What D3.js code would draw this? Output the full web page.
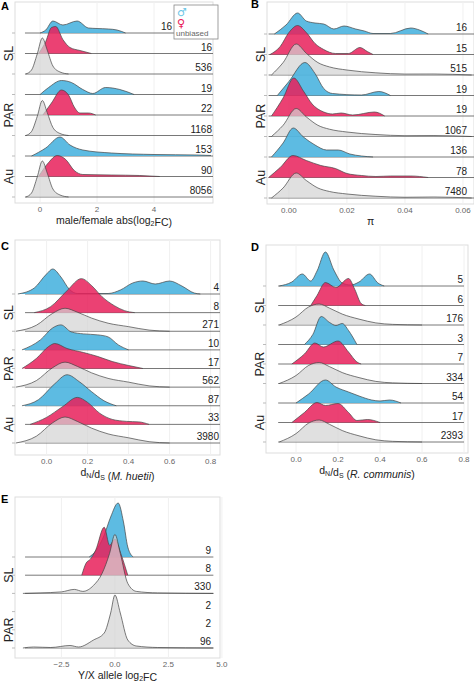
<!DOCTYPE html>
<html><head><meta charset="utf-8">
<script src="https://cdn.jsdelivr.net/npm/d3@7"></script>
<style>body{margin:0;background:#fff}svg{font-family:"Liberation Sans",Arial,sans-serif}</style>
</head><body><svg id="c" width="474" height="684"></svg>
<script>
// ---- data ----
const seriesTypes = ["male","female","unbiased","male","female","unbiased","male","female","unbiased"];
const groups = ["SL","PAR","Au"];
const grayA = [[-0.5,0],[-0.3,4],[-0.1,20],[0.08,36],[0.25,24],[0.45,8],[0.7,2],[1.0,0]];
const aCounts = [16,16,536,19,22,1168,153,90,8056];
const aCurves = [
 [[0.0,0],[0.2,3],[0.45,12],[0.8,8],[1.3,12],[1.7,5],[2.0,4.5],[2.4,4],[2.7,3],[3.0,0]],
 [[-0.05,0],[0.2,12],[0.4,26],[0.55,27],[0.8,14],[1.05,6],[1.4,3],[1.8,0]],
 grayA,
 [[0,0],[0.3,7],[0.75,14],[1.1,12],[1.5,5],[1.85,1],[2.3,7],[2.8,5],[3.3,0]],
 [[0.1,0],[0.4,12],[0.75,25],[1.0,20],[1.2,8],[1.4,2],[1.7,2],[1.95,0]],
 [[-0.5,0],[-0.3,4],[-0.1,19],[0.08,35],[0.25,23],[0.45,8],[0.7,2],[1.0,0]],
 [[-0.3,0],[0.2,8],[0.7,19],[1.05,11],[1.5,6],[2.5,3],[4,1.5],[5.5,1],[6.0,0.5]],
 [[-0.05,0],[0.3,14],[0.6,21],[0.9,17],[1.2,6],[1.5,2],[2.5,1.5],[3.5,1],[4.2,0]],
 grayA
];
const aTicks = [0,2,4];
const grayB = (p)=>[[-0.006,0],[-0.002,p*0.4],[0.0025,p],[0.006,p*0.7],[0.01,p*0.4],[0.014,p*0.26],[0.02,p*0.16],[0.03,p*0.07],[0.04,p*0.03],[0.05,1],[0.063,0]];
const bCounts = [16,15,515,19,19,1067,136,78,7480];
const bCurves = [
 [[-0.005,0],[-0.001,9],[0.003,21],[0.006,13],[0.009,11],[0.012,10],[0.0155,5],[0.019,8],[0.023,5],[0.026,3],[0.029,0.5],[0.035,0.5],[0.042,6],[0.045,4],[0.048,0]],
 [[-0.0065,0],[-0.003,8],[0.0,22],[0.003,29],[0.006,22],[0.009,11],[0.012,5],[0.016,1],[0.0205,1],[0.0245,7],[0.027,3],[0.029,0]],
 grayB(31),
 [[-0.004,0],[0.0,14],[0.0055,33],[0.009,22],[0.012,7],[0.015,2],[0.025,0.5],[0.031,4],[0.035,0]],
 [[-0.006,0],[-0.002,18],[0.0017,38],[0.005,25],[0.008,12],[0.012,4],[0.015,2],[0.018,3],[0.022,1],[0.0295,4],[0.033,0]],
 grayB(28),
 [[-0.006,0],[-0.002,14],[0.0015,29],[0.005,20],[0.009,12],[0.013,7],[0.017,7],[0.021,3],[0.025,1],[0.029,0]],
 [[-0.007,0],[-0.003,10],[0.0014,22],[0.006,17],[0.011,12],[0.016,9],[0.02,4],[0.025,2],[0.03,1],[0.035,1.5],[0.042,1.5],[0.048,0]],
 grayB(25)
];
const bTicks = [0,0.02,0.04,0.06];
const grayC = (p)=>[[-0.15,0],[-0.05,p*0.26],[0.03,p*0.78],[0.09,p],[0.15,p*0.83],[0.22,p*0.57],[0.3,p*0.35],[0.4,p*0.2],[0.5,p*0.05],[0.6,0]];
const cCounts = [4,8,271,10,17,562,87,33,3980];
const cCurves = [
 [[-0.14,0],[-0.06,6],[0.0,20],[0.03,25],[0.07,17],[0.11,5],[0.15,0.5],[0.3,0.5],[0.36,4],[0.42,11],[0.47,13],[0.53,10],[0.6,13],[0.66,8],[0.72,1],[0.75,0]],
 [[-0.06,0],[0.02,6],[0.1,22],[0.17,34],[0.22,27],[0.27,16],[0.33,7],[0.38,2],[0.43,0]],
 grayC(23),
 [[-0.12,0],[-0.03,10],[0.03,22],[0.07,25],[0.12,18],[0.18,16],[0.25,15],[0.3,13],[0.35,5],[0.4,0]],
 [[-0.12,0],[-0.05,10],[0.01,22],[0.04,25],[0.1,20],[0.18,16],[0.25,12],[0.32,7],[0.4,3],[0.47,0]],
 grayC(25),
 [[-0.12,0],[-0.04,6],[0.04,22],[0.1,31],[0.16,24],[0.22,14],[0.28,5],[0.34,0]],
 [[-0.08,0],[0.0,7],[0.08,18],[0.15,27],[0.2,22],[0.26,11],[0.32,5],[0.39,3],[0.45,2.5],[0.5,0]],
 grayC(26)
];
const cTicks = [0,0.2,0.4,0.6,0.8];
const grayD = (p)=>[[-0.08,0],[0.0,p*0.38],[0.06,p*0.86],[0.11,p],[0.16,p*0.8],[0.22,p*0.52],[0.3,p*0.28],[0.38,p*0.1],[0.46,p*0.03],[0.6,0]];
const dCounts = [5,6,176,3,7,334,54,17,2393];
const dCurves = [
 [[-0.08,0],[-0.02,4],[0.03,12],[0.07,5],[0.1,15],[0.14,34],[0.18,16],[0.22,3],[0.26,1],[0.3,4],[0.35,12],[0.39,3],[0.42,0]],
 [[0.07,0],[0.1,10],[0.14,23],[0.19,18],[0.25,27],[0.28,16],[0.31,2],[0.33,0]],
 grayD(21),
 [[0.04,0],[0.08,10],[0.12,28],[0.16,22],[0.19,19],[0.22,21],[0.25,14],[0.29,0]],
 [[-0.02,0],[0.04,10],[0.09,21],[0.13,17],[0.2,23],[0.25,12],[0.29,2],[0.31,0]],
 grayD(21),
 [[0.0,0],[0.06,9],[0.14,23],[0.19,16],[0.25,11],[0.3,7],[0.36,3],[0.4,2],[0.445,3],[0.5,0]],
 [[-0.02,0],[0.04,10],[0.1,20],[0.14,17],[0.2,19],[0.25,10],[0.29,2],[0.34,3],[0.4,0]],
 grayD(22)
];
const dTicks = [0,0.2,0.4,0.6,0.8];
const eSeries = ["male","female","unbiased","male","female","unbiased"];
const eCounts = [9,8,330,2,2,96];
const eCurves = [
 [[-1.2,0],[-0.9,6],[-0.5,22],[-0.2,40],[0.15,54],[0.4,35],[0.6,10],[0.85,0]],
 [[-1.55,0],[-1.35,12],[-1.15,16],[-0.9,25],[-0.5,48],[-0.25,30],[0.0,36],[0.3,20],[0.6,0]],
 [[-4.3,0],[-3.5,0.5],[-2.5,1.5],[-1.9,4],[-1.5,2],[-1.0,8],[-0.6,20],[-0.25,40],[0.0,59],[0.25,40],[0.6,10],[1.0,2],[2.0,0.5],[4.6,0]],
 null, null,
 [[-4.3,0],[-3.8,1],[-3.0,0.5],[-2.1,2.5],[-1.7,1],[-1.0,8],[-0.5,15],[-0.2,35],[0.0,53],[0.25,35],[0.6,8],[1.0,2],[2.0,0.5],[4.6,0]]
];
const eTicks = [-2.5,0,2.5,5];

// ---- drawing ----
const svg = d3.select("#c");
const fills = {male:"#4fb5e0",female:"#e8205a",unbiased:"#d3d3d3"};
const alph = {male:0.92,female:0.85,unbiased:0.7};

function panel(o){
  const g = svg.append("g");
  const x = d3.scaleLinear().domain(o.xd).range([o.L,o.R]);
  const yb = d3.scaleLinear().domain([0,o.counts.length-1]).range([o.b0,o.b1]);
  const h = d3.scaleLinear().domain([0,1]).range([0,1]);
  g.append("rect").attr("x",o.L).attr("y",o.T).attr("width",o.R-o.L).attr("height",o.B-o.T)
    .attr("fill","#fff").attr("stroke","#ddd");
  o.ticks.forEach(t=>g.append("line").attr("x1",x(t)).attr("x2",x(t)).attr("y1",o.T).attr("y2",o.B).attr("stroke","#f0f0f0"));
  o.counts.forEach((c,i)=>g.append("line").attr("x1",o.L-3).attr("x2",o.L).attr("y1",yb(i)).attr("y2",yb(i)).attr("stroke","#bbb"));
  o.curves.forEach((cv,i)=>{
    if(!cv) return;
    const base = yb(i), s = o.series[i];
    g.append("line").attr("x1",x(o.ls)).attr("x2",x(o.le)).attr("y1",base).attr("y2",base).attr("stroke","#555").attr("stroke-width",0.8);
    const area = d3.area().x(d=>x(d[0])).y0(base).y1(d=>base-h(d[1])).curve(d3.curveMonotoneX);
    const line = d3.line().x(d=>x(d[0])).y(d=>base-h(d[1])).curve(d3.curveMonotoneX);
    g.append("path").attr("d",area(cv)).attr("fill",fills[s]).attr("fill-opacity",alph[s]);
    g.append("path").attr("d",line(cv)).attr("fill","none").attr("stroke","#444").attr("stroke-width",0.7);
  });
  o.counts.forEach((c,i)=>g.append("text").attr("x",(i===0&&o.cx0)?o.cx0:o.cr).attr("y",yb(i)-3)
    .attr("text-anchor","end").attr("font-size",10).attr("fill","#222").text(c));
  o.ticks.forEach(t=>g.append("text").attr("x",x(t)).attr("y",o.B+9).attr("text-anchor","middle")
    .attr("font-size",8).attr("fill","#666").text(d3.format(o.fmt)(t).replace("-","−")));
  groups.forEach((gr,k)=>{
    if(k>=o.counts.length/3) return;
    const yc = yb(k*3+1);
    g.append("text").attr("transform",`translate(${o.L-2},${yc}) rotate(-90)`).attr("text-anchor","middle")
      .attr("font-size",12.5).attr("fill","#222").text(gr);
  });
  g.append("text").attr("x",o.lx).attr("y",o.ly).attr("font-weight","bold").attr("font-size",11).text(o.letter);
  const tt = g.append("text").attr("x",(o.L+o.R)/2).attr("y",o.B+21).attr("text-anchor","middle").attr("font-size",10.5).attr("fill","#222");
  o.title(tt);
  return g;
}
function sub(t,s){t.append("tspan").attr("font-size",7).attr("dy",2).text(s);t.append("tspan").attr("dy",-2).text("");}

panel({letter:"A",lx:1,ly:10,L:15,R:213,T:2,B:203,xd:[-0.88,6.07],ls:-0.53,le:6.07,b0:33,b1:197,
  counts:aCounts,curves:aCurves,series:seriesTypes,ticks:aTicks,fmt:"d",cr:212,cx0:172,
  title:t=>{t.append("tspan").text("male/female abs(log");sub(t,"2");t.append("tspan").text("FC)");}});
panel({letter:"B",lx:251,ly:8,L:267,R:474,T:2,B:204,xd:[-0.00755,0.0638],ls:-0.007,le:0.064,b0:34,b1:198,
  counts:bCounts,curves:bCurves,series:seriesTypes,ticks:bTicks,fmt:".2f",cr:467,
  title:t=>t.text("π")});
panel({letter:"C",lx:1,ly:250,L:15,R:220,T:240,B:455,xd:[-0.154,0.846],ls:-0.105,le:0.846,b0:294,b1:443,
  counts:cCounts,curves:cCurves,series:seriesTypes,ticks:cTicks,fmt:".1f",cr:219,
  title:t=>{t.append("tspan").text("d");sub(t,"N");t.append("tspan").text("/d");sub(t,"S");
    t.append("tspan").text(" (");t.append("tspan").attr("font-style","italic").text("M. huetii");t.append("tspan").text(")");}});
panel({letter:"D",lx:251,ly:251,L:266,R:468,T:245,B:453,xd:[-0.143,0.819],ls:-0.085,le:0.8,b0:286,b1:442,
  counts:dCounts,curves:dCurves,series:seriesTypes,ticks:dTicks,fmt:".1f",cr:463,
  title:t=>{t.append("tspan").text("d");sub(t,"N");t.append("tspan").text("/d");sub(t,"S");
    t.append("tspan").text(" (");t.append("tspan").attr("font-style","italic").text("R. communis");t.append("tspan").text(")");}});
panel({letter:"E",lx:1,ly:503,L:15,R:220,T:497,B:658,xd:[-4.67,4.91],ls:-4.2,le:4.6,b0:557,b1:648,
  counts:eCounts,curves:eCurves,series:eSeries,ticks:eTicks,fmt:".1f",cr:211,
  title:t=>{t.append("tspan").text("Y/X allele log");sub(t,"2");t.append("tspan").text("FC");}});

// legend
const lg = svg.append("g");
lg.append("rect").attr("x",174).attr("y",5).attr("width",44).attr("height",34).attr("fill","#fff").attr("stroke","#888").attr("stroke-width",0.8);
lg.append("text").attr("x",177).attr("y",16).attr("font-family","DejaVu Sans").attr("font-size",11).attr("fill","#6cc6e6").text("♂");
lg.append("text").attr("x",177).attr("y",27).attr("font-family","DejaVu Sans").attr("font-size",11).attr("fill","#e8205a").text("♀");
lg.append("text").attr("x",176).attr("y",36).attr("font-size",8).attr("fill","#666").text("unbiased");
</script></body></html>
